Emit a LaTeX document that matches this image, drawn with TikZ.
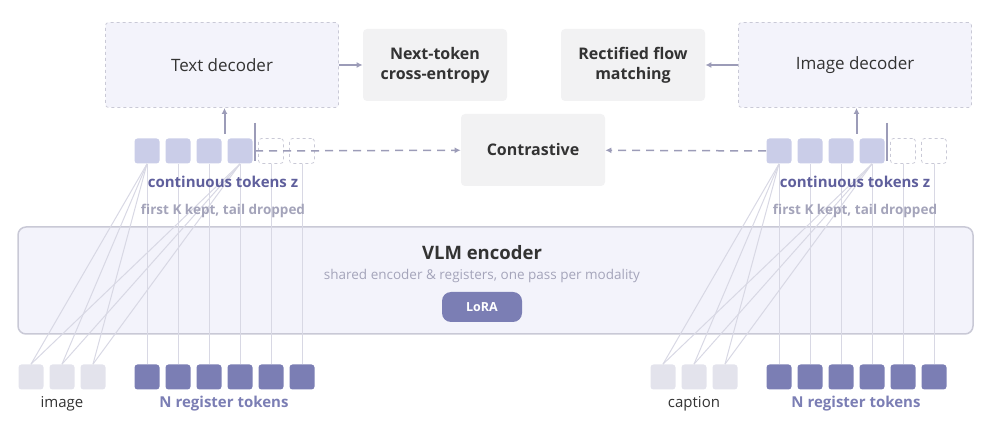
\documentclass[tikz,border=0pt]{standalone}
\usepackage{fontspec}
\setmainfont{Open Sans}
\usetikzlibrary{arrows.meta,positioning,calc}
\definecolor{boxfill}{HTML}{F3F3FB}
\definecolor{boxline}{HTML}{C9C9D6}
\definecolor{lossfill}{HTML}{F2F2F3}
\definecolor{tokz}{HTML}{CACDE8}
\definecolor{tokreg}{HTML}{7B7EB4}
\definecolor{tokin}{HTML}{E3E3EC}
\definecolor{wire}{HTML}{D8D8E4}
\definecolor{arr}{HTML}{9C9CB8}
\definecolor{labz}{HTML}{5F5F9C}
\definecolor{labgray}{HTML}{A4A4BA}
\definecolor{txt}{HTML}{333333}
\tikzset{every picture/.style={line width=0.75pt}}
\tikzset{
  decoder/.style={draw=boxline,dashed,fill=boxfill,rounded corners=3pt,minimum width=233pt,minimum height=85pt,font=\fontsize{17}{20}\selectfont,text=txt},
  loss/.style={fill=lossfill,rounded corners=4pt,minimum width=144pt,minimum height=72pt,font=\bfseries\fontsize{16}{20}\selectfont,text=txt,align=center},
  tok/.style={rounded corners=3pt,minimum size=25pt,inner sep=0pt},
  ztok/.style={tok,fill=tokz},
  droptok/.style={tok,draw=boxline,dashed,fill=white},
  regtok/.style={tok,fill=tokreg},
  intok/.style={tok,fill=tokin},
  wire/.style={draw=wire,line width=1pt},
  flow/.style={draw=arr,line width=2pt,-{Latex[length=6pt,width=6pt]}},
}
\begin{document}
\begin{tikzpicture}[x=1pt,y=-1pt]
\useasboundingbox (0,0) rectangle (994,427);

%VLM encoder
\node [draw=boxline,line width=1.5pt,fill=boxfill,rounded corners=8pt,minimum width=955pt,minimum height=107pt] (enc) at (495.5,280.5) {};
\node [font=\bfseries\fontsize{18.5}{22}\selectfont,text=txt] (enctitle) at (482,253) {VLM encoder};
\node [font=\fontsize{13.5}{16}\selectfont,text=labgray] (encsub) at (482,276) {shared encoder \& registers, one pass per modality};
\node [fill=tokreg,rounded corners=9pt,minimum width=80pt,minimum height=30pt,text=white,font=\bfseries\fontsize{12.5}{14}\selectfont] (lora) at (482,307) {LoRA};

%Decoders and losses
\node [decoder] (tdec) at (222,65) {Text decoder};
\node [decoder] (idec) at (855,65) {Image decoder};
\node [loss] (ntp) at (435,65) {Next-token\\cross-entropy};
\node [loss] (rfm) at (633,65) {Rectified flow\\matching};
\node [loss] (con) at (533,150) {Contrastive};
\draw [flow] (tdec) -- (ntp);
\draw [flow] (idec) -- (rfm);

%Token rows, left (image) and right (caption)
\foreach \s/\x/\n/\lab in {l/0/image/image, r/632/caption/caption}{
  \foreach \i in {1,...,3}
    \node [intok] (\s in\i) at (\x+31*\i,377) {};
  \foreach \i in {1,...,6}
    \node [regtok] (\s reg\i) at (\x+116+31*\i,377) {};
  \foreach \i in {1,...,4}
    \node [ztok] (\s z\i) at (\x+116+31*\i,151) {};
  \foreach \i in {5,6}
    \node [droptok] (\s z\i) at (\x+116+31*\i,151) {};
  \foreach \i in {1,...,6}
    \draw [wire] (\s reg\i.north) -- (\s z\i.south);
  \foreach \i in {1,...,3}{
    \draw [wire] (\s in\i.north) -- (\s z1.south);
    \draw [wire] (\s in\i.north) -- (\s z4.south);
  }
  \node [text=txt,font=\fontsize{15}{18}\selectfont] at (\x+62,404) {\lab};
  \node [text=tokreg,font=\bfseries\fontsize{15}{18}\selectfont] at (\x+224,404) {N register tokens};
  \node [text=labz,font=\bfseries\fontsize{15}{18}\selectfont] at (\x+223,182) {continuous tokens z};
  \node [text=labgray,font=\bfseries\fontsize{13.5}{16}\selectfont] at (\x+223,211) {first K kept, tail dropped};
  \coordinate (\s cut) at (\x+255,151);
  \draw [draw=arr,line width=2pt] (\x+255,123) -- (\x+255,161);
  \draw [flow] ($(\s z3)!0.5!(\s z4)+(0,-17)$) -- +(0,-26);
}
\draw [flow,dash pattern=on 8pt off 6pt,line width=1.5pt] (lcut) -- (con);
\draw [flow,dash pattern=on 8pt off 6pt,line width=1.5pt] (rz1) -- (con);
\end{tikzpicture}
\end{document}
